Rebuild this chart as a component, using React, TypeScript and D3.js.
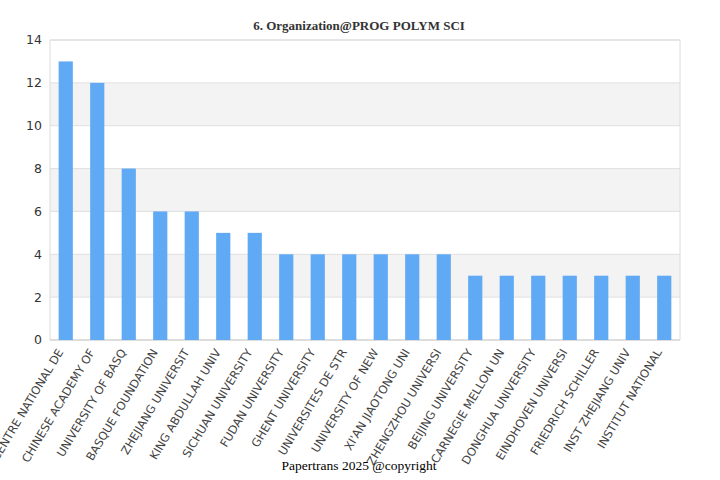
import React, { useEffect, useRef } from 'react';
import * as d3 from 'd3';

const organizations = [
  'CENTRE NATIONAL DE',
  'CHINESE ACADEMY OF',
  'UNIVERSITY OF BASQ',
  'BASQUE FOUNDATION',
  'ZHEJIANG UNIVERSIT',
  'KING ABDULLAH UNIV',
  'SICHUAN UNIVERSITY',
  'FUDAN UNIVERSITY',
  'GHENT UNIVERSITY',
  'UNIVERSITES DE STR',
  'UNIVERSITY OF NEW',
  "XI'AN JIAOTONG UNI",
  'ZHENGZHOU UNIVERSI',
  'BEIJING UNIVERSITY',
  'CARNEGIE MELLON UN',
  'DONGHUA  UNIVERSITY',
  'EINDHOVEN UNIVERSI',
  'FRIEDRICH SCHILLER',
  'INST ZHEJIANG UNIV',
  'INSTITUT NATIONAL',
];
const counts = [13, 12, 8, 6, 6, 5, 5, 4, 4, 4, 4, 4, 4, 3, 3, 3, 3, 3, 3, 3];
const yTicks = [0, 2, 4, 6, 8, 10, 12, 14];

const App = () => {
  const svgRef = useRef<SVGSVGElement>(null);

  useEffect(() => {
    const width = 720;
    const height = 480;
    const m = { top: 40, right: 40, bottom: 140, left: 50 };
    const svg = d3.select(svgRef.current).attr('width', width).attr('height', height);
    svg.selectAll('*').remove();

    const x = d3.scaleBand().domain(organizations).range([m.left, width - m.right]).paddingInner(0.55).paddingOuter(0.275);
    const y = d3.scaleLinear().domain([0, 14]).range([height - m.bottom, m.top]);

    // alternating bands
    for (let i = 0; i < yTicks.length - 1; i++) {
      if (i % 2 === 1) {
        svg.append('rect')
          .attr('x', m.left)
          .attr('y', y(yTicks[i + 1]))
          .attr('width', width - m.left - m.right)
          .attr('height', y(yTicks[i]) - y(yTicks[i + 1]))
          .attr('fill', '#f3f3f3');
      }
    }

    svg.selectAll('line.grid')
      .data(yTicks)
      .join('line')
      .attr('class', 'grid')
      .attr('x1', m.left)
      .attr('x2', width - m.right)
      .attr('y1', d => y(d))
      .attr('y2', d => y(d))
      .attr('stroke', '#e0e0e0');

    // frame
    svg.append('path')
      .attr('d', `M${m.left},${height - m.bottom}V${m.top}H${width - m.right}V${height - m.bottom}`)
      .attr('fill', 'none')
      .attr('stroke', '#dcdcdc');
    svg.append('line')
      .attr('x1', m.left).attr('x2', width - m.right)
      .attr('y1', y(0)).attr('y2', y(0))
      .attr('stroke', '#cccccc');

    svg.selectAll('rect.bar')
      .data(counts)
      .join('rect')
      .attr('class', 'bar')
      .attr('x', (d, i) => x(organizations[i]) as number)
      .attr('y', d => y(d))
      .attr('width', x.bandwidth())
      .attr('height', d => y(0) - y(d))
      .attr('fill', '#60a9f5');

    svg.selectAll('text.ytick')
      .data(yTicks)
      .join('text')
      .attr('class', 'ytick')
      .attr('x', m.left - 8)
      .attr('y', d => y(d))
      .attr('dy', '0.35em')
      .attr('text-anchor', 'end')
      .attr('font-family', 'DejaVu Sans')
      .attr('font-size', 12.5)
      .attr('fill', '#333')
      .text(d => d);

    svg.selectAll('text.xtick')
      .data(organizations)
      .join('text')
      .attr('class', 'xtick')
      .attr('transform', d => `translate(${(x(d) as number) + x.bandwidth() / 2 - 2},${y(0) + 12}) rotate(-59)`)
      .attr('text-anchor', 'end')
      .attr('font-family', 'DejaVu Sans')
      .attr('font-size', 11.5)
      .attr('fill', '#444')
      .text(d => d);

    svg.append('text')
      .attr('x', 359)
      .attr('y', 30)
      .attr('text-anchor', 'middle')
      .attr('font-family', 'Liberation Serif')
      .attr('font-weight', 'bold')
      .attr('font-size', 13)
      .attr('fill', '#333')
      .text('6. Organization@PROG POLYM SCI');

    svg.append('text')
      .attr('x', 359)
      .attr('y', 470)
      .attr('text-anchor', 'middle')
      .attr('font-family', 'Liberation Serif')
      .attr('font-size', 13.5)
      .attr('fill', '#000')
      .text('Papertrans 2025 @copyright');
  }, []);

  return <svg ref={svgRef} style={{ position: 'absolute', left: 0, top: 0 }}></svg>;
};

export default App;
